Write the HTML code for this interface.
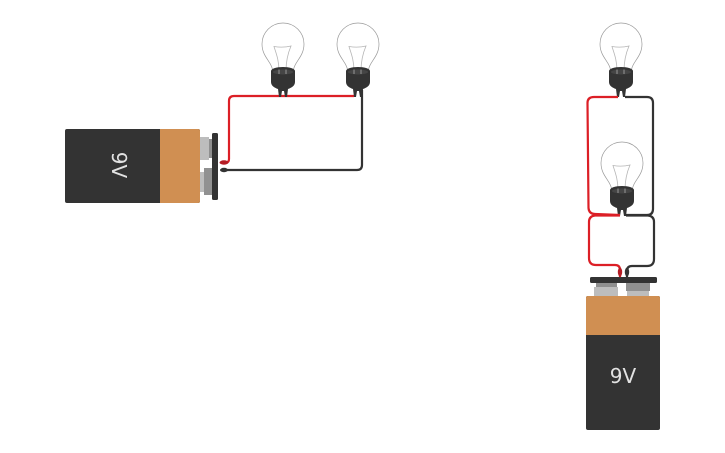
<!DOCTYPE html>
<html>
<head>
<meta charset="utf-8">
<style>
html,body{margin:0;padding:0;background:#fff;}
svg{display:block;}
</style>
</head>
<body>
<svg width="725" height="453" viewBox="0 0 725 453" xmlns="http://www.w3.org/2000/svg">
<defs>
<g id="bulb">
<path d="M-10.5,25 C-11,17 -21,12 -21,-1 A21,21 0 0 1 21,-1 C21,12 11,17 10.5,25" fill="#fff" stroke="#9a9a9a" stroke-width="0.7"/>
<path d="M-4,26 C-4,15 -7,8 -9,1.5 Q0,3 8,1 C5,8 3,15 3,26" fill="none" stroke="#b5b5b5" stroke-width="0.8"/>
<path d="M-12,26 L-12,37 C-12,41 -8,43 -5,44 L-4,52 L-2,52 L-1,46 L1,46 L2,52 L4,52 L5,44 C8,43 12,41 12,37 L12,26 Z" fill="#333"/>
<ellipse cx="0" cy="26" rx="12" ry="4" fill="#333"/>
<ellipse cx="0" cy="27" rx="10" ry="2.500" fill="#454545"/>
<path d="M-4,24.500 V29 M3,24.500 V29" stroke="#aaa" stroke-width="0.8"/>
</g>
</defs>

<!-- left battery -->
<rect x="65" y="129" width="135" height="74" rx="2" fill="#333"/>
<path d="M160,129 H198 Q200,129 200,131 V201 Q200,203 198,203 H160 Z" fill="#d08f52"/>
<rect x="200" y="137" width="9" height="23" fill="#bdbdbd"/>
<rect x="209" y="139" width="3" height="19" fill="#8f8f8f"/>
<rect x="200" y="172" width="5" height="20" fill="#bdbdbd"/>
<rect x="204" y="168" width="8" height="27" fill="#919191"/>
<rect x="212" y="133" width="6" height="67" rx="1.500" fill="#333"/>
<text x="0" y="0" transform="translate(112,165) rotate(90)" text-anchor="middle" font-family="'DejaVu Sans',sans-serif" font-size="20" fill="#e2e2e2">9V</text>

<!-- left wires -->
<path d="M222,162.500 H226 Q229,162.500 229,159 V101 Q229,96 234,96 H354" fill="none" stroke="#dc1f26" stroke-width="2.200"/>
<path d="M222,170 H357 Q362,170 362,165 V90" fill="none" stroke="#333" stroke-width="2.200"/>
<ellipse cx="224" cy="162.500" rx="4.500" ry="2.200" fill="#b51d25"/>
<ellipse cx="224" cy="170" rx="4" ry="2.200" fill="#333"/>

<!-- bulbs -->
<use href="#bulb" x="283" y="45"/>
<use href="#bulb" x="358" y="45"/>
<use href="#bulb" x="621" y="45"/>
<use href="#bulb" x="622" y="164"/>

<!-- right wires -->
<path d="M618,97 H594 Q587.500,97 587.500,103 L588.500,208 Q589,214 595,214 L620,215" fill="none" stroke="#dc1f26" stroke-width="2.200"/>
<path d="M625,97 H647 Q653,97 653,103 V209 Q653,215 647,215 H626" fill="none" stroke="#333" stroke-width="2.200"/>
<path d="M620,215.500 H595 Q589,216 589,222 V258 Q589,265 596,265 H615 Q620,265 620,270 V277" fill="none" stroke="#dc1f26" stroke-width="2.200"/>
<path d="M626,215.500 H648 Q654,216 654,222 V259 Q654,266 647,266 H632 Q627,266 627,271 V277" fill="none" stroke="#333" stroke-width="2.200"/>
<ellipse cx="620" cy="272" rx="2.200" ry="4.500" fill="#b51d25"/>
<ellipse cx="627" cy="272" rx="2.200" ry="4.500" fill="#333"/>

<!-- right battery -->
<rect x="594" y="287" width="24" height="9" fill="#bdbdbd"/>
<rect x="596" y="283" width="21" height="4" fill="#8f8f8f"/>
<rect x="627" y="291" width="22" height="5" fill="#bdbdbd"/>
<rect x="626" y="283" width="24" height="8" fill="#919191"/>
<rect x="590" y="277" width="67" height="6" rx="1.500" fill="#333"/>
<rect x="586" y="296" width="74" height="134" rx="2" fill="#333"/>
<path d="M586,335 V298 Q586,296 588,296 H658 Q660,296 660,298 V335 Z" fill="#d08f52"/>
<text x="623" y="383" text-anchor="middle" font-family="'DejaVu Sans',sans-serif" font-size="20" fill="#e2e2e2">9V</text>
</svg>
</body>
</html>
